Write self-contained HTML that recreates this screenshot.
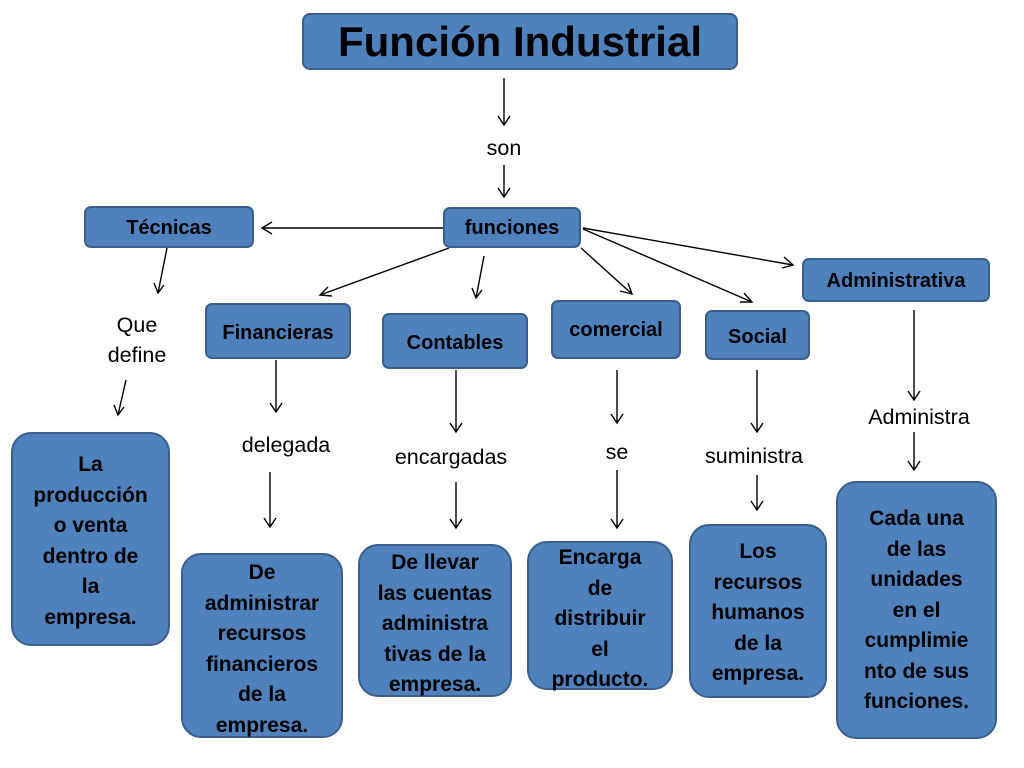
<!DOCTYPE html>
<html><head><meta charset="utf-8"><style>
body{margin:0;width:1024px;height:768px;background:#fff;position:relative;overflow:hidden;font-family:"Liberation Sans",sans-serif}
.b{position:absolute;box-sizing:border-box;background:#4F81BD;border:2px solid #3A5F8C;border-radius:7px;font-weight:bold;color:#000;text-align:center;font-size:20px}
.big{border-radius:20px;line-height:30.5px;font-size:21px}
.t{position:absolute;font-size:21.5px;color:#000;text-align:center;line-height:30px}
svg{position:absolute;left:0;top:0}
</style></head><body>
<svg width="1024" height="768" stroke="#000" stroke-width="1.4" fill="none">
<g id="a">
<line x1="504" y1="78" x2="504" y2="125"/><polyline points="498,116 504,125 510,116"/>
<line x1="504" y1="165" x2="504" y2="197"/><polyline points="498,188 504,197 510,188"/>
<line x1="443" y1="228" x2="262" y2="228"/><polyline points="272,222 262,228 272,234"/>
<line x1="167" y1="248" x2="158" y2="293"/><polyline points="154,283 158,293 164,285"/>
<line x1="449" y1="248" x2="320" y2="295"/><polyline points="328,287 320,295 332,296"/>
<line x1="484" y1="256" x2="476" y2="298"/><polyline points="472,288 476,298 482,290"/>
<line x1="581" y1="248" x2="632" y2="294"/><polyline points="620,291 632,294 628,283"/>
<line x1="583" y1="229" x2="752" y2="302"/><polyline points="740,302 752,302 744,293"/>
<line x1="583" y1="228" x2="793" y2="265"/><polyline points="782,268 793,265 784,257"/>
<line x1="126" y1="380" x2="118" y2="415"/><polyline points="114,405 118,415 124,407"/>
<line x1="276" y1="360" x2="276" y2="412"/><polyline points="270,403 276,412 282,403"/>
<line x1="270" y1="472" x2="270" y2="527"/><polyline points="264,518 270,527 276,518"/>
<line x1="456" y1="370" x2="456" y2="432"/><polyline points="450,423 456,432 462,423"/>
<line x1="456" y1="482" x2="456" y2="528"/><polyline points="450,519 456,528 462,519"/>
<line x1="617" y1="370" x2="617" y2="423"/><polyline points="611,414 617,423 623,414"/>
<line x1="617" y1="470" x2="617" y2="528"/><polyline points="611,519 617,528 623,519"/>
<line x1="757" y1="370" x2="757" y2="432"/><polyline points="751,423 757,432 763,423"/>
<line x1="757" y1="475" x2="757" y2="510"/><polyline points="751,501 757,510 763,501"/>
<line x1="914" y1="310" x2="914" y2="400"/><polyline points="908,391 914,400 920,391"/>
<line x1="914" y1="432" x2="914" y2="470"/><polyline points="908,461 914,470 920,461"/>
</g></svg>
<div class="b" style="left:302px;top:13px;width:436px;height:57px;font-size:42px;line-height:53px;border-radius:8px">Función Industrial</div>
<div class="b" style="left:84px;top:206px;width:170px;height:42px;line-height:40px">Técnicas</div>
<div class="b" style="left:443px;top:207px;width:138px;height:41px;line-height:39px">funciones</div>
<div class="b" style="left:802px;top:258px;width:188px;height:44px;line-height:42px">Administrativa</div>
<div class="b" style="left:205px;top:303px;width:146px;height:56px;line-height:56px">Financieras</div>
<div class="b" style="left:382px;top:313px;width:146px;height:56px;line-height:56px">Contables</div>
<div class="b" style="left:551px;top:300px;width:130px;height:59px;line-height:56px;padding-bottom:4px">comercial</div>
<div class="b" style="left:705px;top:310px;width:105px;height:50px;line-height:50px">Social</div>
<div class="b big" style="left:11px;top:432px;width:159px;height:214px;padding-top:16px">La<br>producción<br>o venta<br>dentro de<br>la<br>empresa.</div>
<div class="b big" style="left:181px;top:553px;width:162px;height:185px;padding-top:3px">De<br>administrar<br>recursos<br>financieros<br>de la<br>empresa.</div>
<div class="b big" style="left:358px;top:544px;width:154px;height:153px;padding-top:2px">De llevar<br>las cuentas<br>administra<br>tivas de la<br>empresa.</div>
<div class="b big" style="left:527px;top:541px;width:146px;height:149px;padding-top:0px">Encarga<br>de<br>distribuir<br>el<br>producto.</div>
<div class="b big" style="left:689px;top:524px;width:138px;height:174px;padding-top:11px">Los<br>recursos<br>humanos<br>de la<br>empresa.</div>
<div class="b big" style="left:836px;top:481px;width:161px;height:258px;padding-top:21px">Cada una<br>de las<br>unidades<br>en el<br>cumplimie<br>nto de sus<br>funciones.</div>
<div class="t" style="left:454px;top:133px;width:100px">son</div>
<div class="t" style="left:82px;top:310px;width:110px">Que<br>define</div>
<div class="t" style="left:216px;top:430px;width:140px">delegada</div>
<div class="t" style="left:376px;top:442px;width:150px">encargadas</div>
<div class="t" style="left:587px;top:437px;width:60px">se</div>
<div class="t" style="left:684px;top:441px;width:140px">suministra</div>
<div class="t" style="left:844px;top:402px;width:150px">Administra</div>
</body></html>
